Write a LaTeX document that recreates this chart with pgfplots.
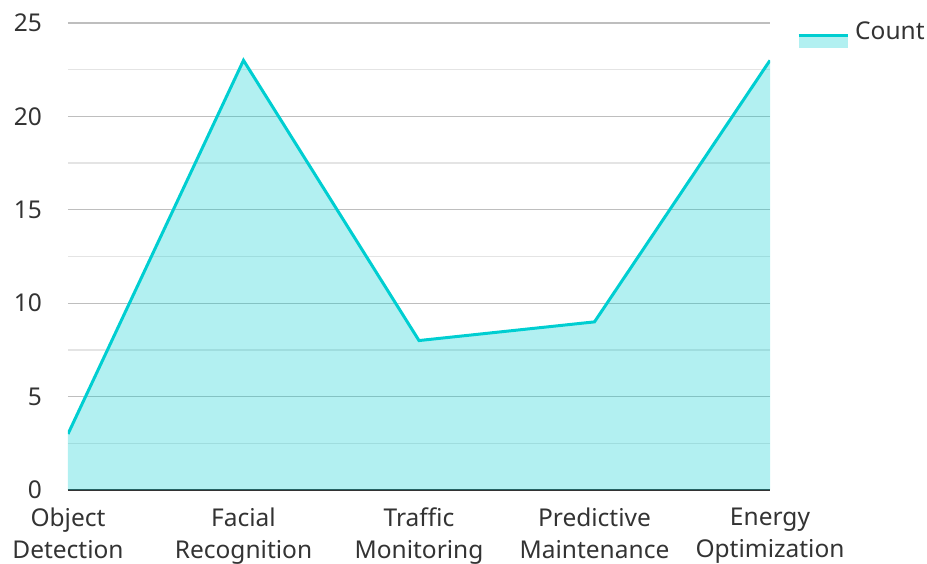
\documentclass[border=0pt]{standalone}
\usepackage{fontspec}
\setmainfont{Noto Sans}
\usepackage{pgfplots}
\pgfplotsset{compat=1.18}
\definecolor{lc}{HTML}{00CED1}
\definecolor{txt}{HTML}{333333}
\definecolor{gmaj}{HTML}{BEBEBE}
\definecolor{gmin}{HTML}{E4E4E4}
\begin{document}
\fontsize{24.5}{32}\selectfont
\begin{tikzpicture}[x=1pt,y=1pt]
\useasboundingbox (0,0) rectangle (927,564);
\begin{axis}[
  at={(68pt,74pt)}, anchor=south west,
  scale only axis, width=702pt, height=467pt,
  xmin=0, xmax=4, ymin=0, ymax=25,
  xtick={0,1,2,3,4},
  xticklabels={{Object\\Detection},{Facial\\Recognition},{Traffic\\Monitoring},{Predictive\\Maintenance},{Energy\\Optimization}},
  xticklabel style={align=center, anchor=north, inner sep=0pt, yshift=-18pt, text=txt, font=\fontsize{24.5}{32}\selectfont},
  ytick={0,5,10,15,20,25},
  minor ytick={2.5,7.5,12.5,17.5,22.5},
  yticklabel style={anchor=east, inner sep=0pt, xshift=-26pt, text=txt, font=\fontsize{24.5}{32}\selectfont},
  /pgf/number format/assume math mode=true,
  ymajorgrids, yminorgrids,
  major grid style={draw=gmaj, line width=1.3pt},
  minor grid style={draw=gmin, line width=1.3pt},
  axis x line=bottom, axis y line=left,
  x axis line style={draw=txt, line width=2.2pt, -},
  y axis line style={draw=none},
  major tick length=0pt, minor tick length=0pt,
  tick style={draw=none},
  legend style={at={(rel axis cs:1,1)}, anchor=north west, xshift=24pt, yshift=5pt,
    draw=none, fill=none, text=txt, font=\fontsize{24.5}{32}\selectfont,
    legend cell align=left},
  legend image code/.code={
    \path[draw=none, fill=lc, fill opacity=0.3] (0pt,-15pt) rectangle (49pt,-1pt);
    \draw[lc, line width=3pt] (0pt,-2.5pt) -- (49pt,-2.5pt);
  },
]
\addplot[draw=none, fill=lc, fill opacity=0.3, forget plot] coordinates {(0,3) (1,23) (2,8) (3,9) (4,23)} \closedcycle;
\addplot[lc, line width=3pt] coordinates {(0,3) (1,23) (2,8) (3,9) (4,23)};
\addlegendentry{\hspace{4pt}Count}
\end{axis}
\end{tikzpicture}
\end{document}
